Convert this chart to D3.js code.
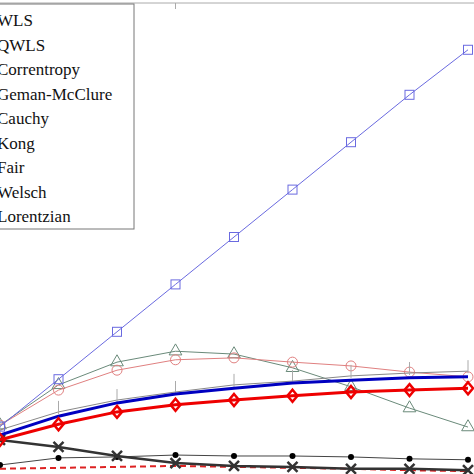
<!DOCTYPE html><html><head><meta charset="utf-8"><script src="https://cdn.jsdelivr.net/npm/d3@7"></script>
<style>body{margin:0;background:#fff}.lt{font-family:"Liberation Serif","Times New Roman",serif;font-size:17px;fill:#111}</style></head><body><svg id="c" width="474" height="474"></svg>
<script>
const xs=[0,1,2,3,4,5,6,7,8];
const legendLabels=["WLS","QWLS","Correntropy","Geman-McClure","Cauchy","Kong","Fair","Welsch","Lorentzian"];
const sWLS=[1.0,2.0,3.0,4.0,5.0,6.0,7.0,8.0,8.95];
const sTri=[1.03,1.88,2.36,2.59,2.53,2.24,1.84,1.39,0.99];
const sCirc=[1.03,1.77,2.19,2.41,2.45,2.36,2.28,2.15,2.05];
const sPlus=[0.93,1.31,1.56,1.73,1.88,1.96,2.07,2.13,2.17];
const sBlue=[0.82,1.22,1.5,1.69,1.81,1.92,1.98,2.03,2.05];
const sDiam=[0.72,1.05,1.31,1.46,1.56,1.65,1.73,1.77,1.81];
const sX=[0.72,0.57,0.38,0.23,0.17,0.15,0.11,0.11,0.08];
const sDot=[0.19,0.34,0.36,0.40,0.38,0.38,0.36,0.32,0.30];
const sDash=[0.11,0.13,0.15,0.17,0.15,0.13,0.11,0.08,0.06];
const svg=d3.select("#c");
const x=d3.scaleLinear().domain([0,8]).range([0,468]);
const y=d3.scaleLinear().domain([0,10]).range([474,0]);
svg.append("line").attr("x1",0).attr("x2",474).attr("y1",3).attr("y2",3).attr("stroke","#aaa");
svg.append("line").attr("x1",x(3)).attr("x2",x(3)).attr("y1",3).attr("y2",9).attr("stroke","#aaa");
const series=[
 {d:sDash,c:"#d22",w:2,dash:"6,4",m:null},
 {d:sDot,c:"#444",w:1,m:"dot"},
 {d:sX,c:"#333",w:2.5,m:"x"},
 {d:sTri,c:"#6a8a7a",w:1,m:"tri"},
 {d:sCirc,c:"#e08080",w:1,m:"circ"},
 {d:sPlus,c:"#888",w:1,m:"plus"},
 {d:sBlue,c:"#0000c0",w:3,m:null},
 {d:sDiam,c:"#e00",w:3,m:"diam"},
 {d:sWLS,c:"#6a6ae0",w:1,m:"sq"}
];
const line=d3.line().x((v,i)=>x(xs[i])).y(v=>y(v));
series.forEach(s=>{
 svg.append("path").attr("d",line(s.d)).attr("fill","none").attr("stroke",s.c).attr("stroke-width",s.w).attr("stroke-dasharray",s.dash||null);
 s.d.forEach((v,i)=>{
  const px=x(xs[i]),py=y(v),g=svg.append("g").attr("transform",`translate(${px},${py})`);
  if(s.m==="dot")g.append("circle").attr("r",3).attr("fill","#000");
  if(s.m==="x")g.append("path").attr("d","M-5,-5L5,5M-5,5L5,-5").attr("stroke","#333").attr("stroke-width",2.5);
  if(s.m==="tri")g.append("path").attr("d",d3.symbol(d3.symbolTriangle,70)()).attr("fill","none").attr("stroke",s.c);
  if(s.m==="circ")g.append("circle").attr("r",5).attr("fill","none").attr("stroke",s.c);
  if(s.m==="plus")g.append("path").attr("d","M0,-11L0,2").attr("stroke","#aaa");
  if(s.m==="diam")g.append("path").attr("d","M0,-6L5,0L0,6L-5,0Z").attr("fill","none").attr("stroke","#e00").attr("stroke-width",2.5);
  if(s.m==="sq")g.append("rect").attr("x",-4.5).attr("y",-4.5).attr("width",9).attr("height",9).attr("fill","none").attr("stroke",s.c);
 });
});
const lg=svg.append("g");
lg.append("rect").attr("x",-2).attr("y",4).attr("width",136).attr("height",225).attr("fill","#fff").attr("stroke","#777");
legendLabels.forEach((t,i)=>lg.append("text").attr("class","lt").attr("x",-3).attr("y",26+i*24.5).text(t));
</script></body></html>
